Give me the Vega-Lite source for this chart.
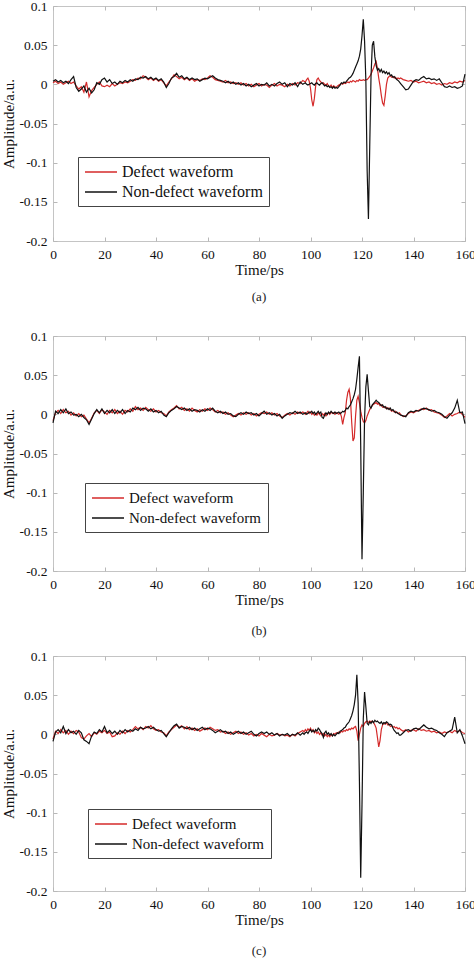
{
  "$schema": "https://vega.github.io/schema/vega-lite/v6.json",
  "padding": {"left": 1, "top": -2, "right": 4, "bottom": 0},
  "spacing": 10,
  "resolve": {"scale": {"color": "independent"}},
  "config": {
    "font": "Liberation Serif",
    "view": {"stroke": "#c4c4c4", "strokeWidth": 1},
    "axis": {
      "domain": false, "grid": false,
      "tickColor": "#b8b8b8", "tickSize": -4, "tickWidth": 1,
      "labelFont": "Liberation Serif", "labelFontSize": 13.5, "labelColor": "#111111",
      "labelPadding": 10, "labelOverlap": false, "labelFlush": false,
      "titleFont": "Liberation Serif", "titleFontSize": 15, "titleFontWeight": "normal", "titleColor": "#111111",
      "titlePadding": 2
    },
    "title": {"orient": "bottom", "font": "Liberation Serif", "fontSize": 13, "fontWeight": "normal", "color": "#222222", "offset": 10, "anchor": "middle"},
    "legend": {"labelFont": "Liberation Serif", "labelColor": "#111111", "strokeColor": "#444444", "fillColor": "white"}
  },
  "datasets": {
    "a": [{"t":0,"d":0.002,"n":0.004},{"t":1,"d":0.004,"n":0.006},{"t":2,"d":0.001,"n":0.003},{"t":3,"d":0.003,"n":0.005},{"t":4,"d":0,"n":0.002},{"t":5,"d":0.002,"n":0.004},{"t":6,"d":0.004,"n":0.001},{"t":7,"d":0.001,"n":0.006},{"t":8,"d":0.003,"n":0.01},{"t":9,"d":-0.002,"n":-0.004},{"t":10,"d":-0.006,"n":-0.009},{"t":11,"d":-0.003,"n":-0.006},{"t":12,"d":-0.01,"n":-0.002},{"t":13,"d":0.003,"n":-0.01},{"t":14,"d":-0.016,"n":-0.005},{"t":15,"d":-0.008,"n":-0.011},{"t":16,"d":-0.004,"n":-0.007},{"t":17,"d":0,"n":0.002},{"t":18,"d":0.003,"n":0},{"t":19,"d":-0.002,"n":0.006},{"t":20,"d":-0.003,"n":0.008},{"t":21,"d":-0.001,"n":0.003},{"t":22,"d":-0.003,"n":0.006},{"t":23,"d":0.001,"n":0.001},{"t":24,"d":-0.002,"n":0.003},{"t":25,"d":0,"n":0},{"t":26,"d":0.002,"n":0.004},{"t":27,"d":0.001,"n":0.002},{"t":28,"d":0.003,"n":0.005},{"t":29,"d":0.002,"n":0.003},{"t":30,"d":0.004,"n":0.006},{"t":31,"d":0.006,"n":0.004},{"t":32,"d":0.005,"n":0.007},{"t":33,"d":0.008,"n":0.006},{"t":34,"d":0.007,"n":0.009},{"t":35,"d":0.011,"n":0.008},{"t":36,"d":0.009,"n":0.01},{"t":37,"d":0.006,"n":0.007},{"t":38,"d":0.008,"n":0.009},{"t":39,"d":0.005,"n":0.006},{"t":40,"d":0.007,"n":0.008},{"t":41,"d":0.004,"n":0.005},{"t":42,"d":0.006,"n":0.007},{"t":43,"d":0.002,"n":0.003},{"t":44,"d":-0.002,"n":-0.004},{"t":45,"d":0.003,"n":0.001},{"t":46,"d":0.007,"n":0.008},{"t":47,"d":0.012,"n":0.01},{"t":48,"d":0.01,"n":0.014},{"t":49,"d":0.007,"n":0.009},{"t":50,"d":0.009,"n":0.011},{"t":51,"d":0.006,"n":0.007},{"t":52,"d":0.008,"n":0.009},{"t":53,"d":0.005,"n":0.006},{"t":54,"d":0.007,"n":0.008},{"t":55,"d":0.004,"n":0.006},{"t":56,"d":0.006,"n":0.007},{"t":57,"d":0.005,"n":0.004},{"t":58,"d":0.007,"n":0.006},{"t":59,"d":0.006,"n":0.008},{"t":60,"d":0.008,"n":0.007},{"t":61,"d":0.011,"n":0.009},{"t":62,"d":0.009,"n":0.011},{"t":63,"d":0.006,"n":0.008},{"t":64,"d":0.005,"n":0.006},{"t":65,"d":0.004,"n":0.005},{"t":66,"d":0.003,"n":0.004},{"t":67,"d":0.005,"n":0.002},{"t":68,"d":0.002,"n":0.004},{"t":69,"d":0.003,"n":0.001},{"t":70,"d":0.001,"n":0.003},{"t":71,"d":0.002,"n":0},{"t":72,"d":0,"n":0.002},{"t":73,"d":0.002,"n":-0.001},{"t":74,"d":-0.001,"n":0.001},{"t":75,"d":0.001,"n":-0.002},{"t":76,"d":-0.002,"n":0},{"t":77,"d":0,"n":-0.003},{"t":78,"d":-0.003,"n":-0.001},{"t":79,"d":-0.001,"n":0.001},{"t":80,"d":0.001,"n":-0.002},{"t":81,"d":-0.002,"n":0},{"t":82,"d":0,"n":-0.001},{"t":83,"d":-0.001,"n":0.002},{"t":84,"d":-0.004,"n":-0.002},{"t":85,"d":-0.001,"n":0},{"t":86,"d":0.001,"n":-0.002},{"t":87,"d":-0.002,"n":0.001},{"t":88,"d":0,"n":0.003},{"t":89,"d":-0.001,"n":0},{"t":90,"d":-0.003,"n":0.002},{"t":91,"d":0,"n":-0.003},{"t":92,"d":-0.002,"n":0.001},{"t":93,"d":0.001,"n":-0.001},{"t":94,"d":-0.001,"n":0.002},{"t":95,"d":0.002,"n":-0.003},{"t":96,"d":0.001,"n":0.003},{"t":97,"d":0.005,"n":0},{"t":97.5,"d":0.004,"n":0.001},{"t":98,"d":0.003,"n":0.002},{"t":98.5,"d":0.006,"n":0},{"t":99,"d":0.008,"n":-0.001},{"t":99.5,"d":0.004,"n":0},{"t":100,"d":-0.005,"n":0.001},{"t":100.5,"d":-0.02,"n":0.002},{"t":101,"d":-0.028,"n":0},{"t":101.5,"d":-0.018,"n":-0.001},{"t":102,"d":-0.002,"n":0.001},{"t":102.5,"d":0.006,"n":0.002},{"t":103,"d":0.008,"n":0},{"t":103.5,"d":0.005,"n":-0.001},{"t":104,"d":0.003,"n":0.001},{"t":104.5,"d":0.001,"n":0.002},{"t":105,"d":0.002,"n":0},{"t":105.5,"d":0,"n":-0.002},{"t":106,"d":-0.001,"n":-0.001},{"t":106.5,"d":0.001,"n":-0.003},{"t":107,"d":-0.002,"n":-0.002},{"t":107.5,"d":-0.003,"n":-0.004},{"t":108,"d":-0.001,"n":-0.003},{"t":108.5,"d":-0.004,"n":-0.005},{"t":109,"d":-0.002,"n":-0.003},{"t":109.5,"d":-0.003,"n":-0.005},{"t":110,"d":-0.004,"n":-0.004},{"t":110.5,"d":-0.002,"n":-0.005},{"t":111,"d":-0.001,"n":-0.003},{"t":111.5,"d":0,"n":-0.001},{"t":112,"d":0.001,"n":0.002},{"t":112.5,"d":0,"n":0.001},{"t":113,"d":0.002,"n":0.003},{"t":113.5,"d":0.001,"n":0.002},{"t":114,"d":0.002,"n":0.004},{"t":114.5,"d":0.003,"n":0.006},{"t":115,"d":0.002,"n":0.008},{"t":115.5,"d":0.004,"n":0.009},{"t":116,"d":0.003,"n":0.011},{"t":116.5,"d":0.005,"n":0.014},{"t":117,"d":0.004,"n":0.018},{"t":117.5,"d":0.003,"n":0.022},{"t":118,"d":0.005,"n":0.026},{"t":118.5,"d":0.004,"n":0.03},{"t":119,"d":0.006,"n":0.036},{"t":119.5,"d":0.005,"n":0.045},{"t":120,"d":0.005,"n":0.062},{"t":120.5,"d":0.006,"n":0.083},{"t":121,"d":0.005,"n":0.055},{"t":121.5,"d":0.006,"n":0.005},{"t":122,"d":0.006,"n":-0.11},{"t":122.5,"d":0.008,"n":-0.172},{"t":123,"d":0.01,"n":-0.08},{"t":123.5,"d":0.013,"n":0.01},{"t":124,"d":0.017,"n":0.05},{"t":124.5,"d":0.021,"n":0.055},{"t":125,"d":0.026,"n":0.035},{"t":125.5,"d":0.029,"n":0.024},{"t":126,"d":0.02,"n":0.018},{"t":126.5,"d":0.008,"n":0.02},{"t":127,"d":-0.002,"n":0.016},{"t":127.5,"d":-0.014,"n":0.019},{"t":128,"d":-0.024,"n":0.015},{"t":128.5,"d":-0.027,"n":0.017},{"t":129,"d":-0.015,"n":0.014},{"t":129.5,"d":0,"n":0.016},{"t":130,"d":0.008,"n":0.013},{"t":130.5,"d":0.01,"n":0.015},{"t":131,"d":0.011,"n":0.011},{"t":131.5,"d":0.009,"n":0.012},{"t":132,"d":0.01,"n":0.009},{"t":132.5,"d":0.008,"n":0.01},{"t":133,"d":0.009,"n":0.008},{"t":133.5,"d":0.007,"n":0.006},{"t":134,"d":0.008,"n":0.005},{"t":134.5,"d":0.007,"n":0.003},{"t":135,"d":0.008,"n":0.001},{"t":136,"d":0.006,"n":-0.003},{"t":137,"d":0.005,"n":-0.007},{"t":138,"d":0.004,"n":-0.006},{"t":139,"d":0.005,"n":-0.001},{"t":140,"d":0.003,"n":0.004},{"t":141,"d":0.004,"n":0.006},{"t":142,"d":0.002,"n":0.005},{"t":143,"d":0.003,"n":0.008},{"t":144,"d":0.004,"n":0.01},{"t":145,"d":0.002,"n":0.007},{"t":146,"d":0.003,"n":0.008},{"t":147,"d":0.001,"n":0.006},{"t":148,"d":0.002,"n":0.007},{"t":149,"d":0,"n":0.005},{"t":150,"d":0.001,"n":0.007},{"t":151,"d":-0.001,"n":0.002},{"t":152,"d":0.001,"n":-0.003},{"t":153,"d":0,"n":-0.004},{"t":154,"d":0.002,"n":-0.002},{"t":155,"d":0.001,"n":-0.004},{"t":156,"d":0.003,"n":-0.003},{"t":157,"d":0.002,"n":-0.005},{"t":158,"d":0.004,"n":-0.004},{"t":159,"d":0.003,"n":-0.002},{"t":160,"d":0.005,"n":0.013}],
    "b": [{"t":0,"d":-0.008,"n":-0.011},{"t":1,"d":0.002,"n":0.004},{"t":2,"d":0.005,"n":0.001},{"t":3,"d":0.001,"n":0.006},{"t":4,"d":0.006,"n":0.002},{"t":5,"d":0.002,"n":0.007},{"t":6,"d":0.004,"n":0.001},{"t":7,"d":-0.001,"n":0.003},{"t":8,"d":0.002,"n":-0.001},{"t":9,"d":-0.002,"n":0},{"t":10,"d":0.001,"n":-0.003},{"t":11,"d":-0.003,"n":0},{"t":12,"d":-0.001,"n":-0.004},{"t":13,"d":-0.006,"n":-0.007},{"t":14,"d":-0.011,"n":-0.013},{"t":15,"d":-0.005,"n":-0.006},{"t":16,"d":0.002,"n":0.001},{"t":17,"d":0.005,"n":0.006},{"t":18,"d":0.001,"n":0.002},{"t":19,"d":0.006,"n":0.007},{"t":20,"d":0.003,"n":0.001},{"t":21,"d":0,"n":0.005},{"t":22,"d":0.005,"n":0.002},{"t":23,"d":0.002,"n":0.006},{"t":24,"d":0.006,"n":0.001},{"t":25,"d":0.001,"n":0.005},{"t":26,"d":0.004,"n":0.002},{"t":27,"d":0,"n":0.006},{"t":28,"d":0.005,"n":0.001},{"t":29,"d":0.003,"n":0.005},{"t":30,"d":0.007,"n":0.003},{"t":31,"d":0.004,"n":0.008},{"t":32,"d":0.01,"n":0.006},{"t":33,"d":0.006,"n":0.009},{"t":34,"d":0.008,"n":0.005},{"t":35,"d":0.005,"n":0.008},{"t":36,"d":0.009,"n":0.007},{"t":37,"d":0.006,"n":0.004},{"t":38,"d":0.004,"n":0.007},{"t":39,"d":0.007,"n":0.003},{"t":40,"d":0.003,"n":0.005},{"t":41,"d":0.005,"n":0.002},{"t":42,"d":0.002,"n":0.004},{"t":43,"d":0.001,"n":-0.001},{"t":44,"d":-0.002,"n":-0.003},{"t":45,"d":0.003,"n":0.002},{"t":46,"d":0.006,"n":0.005},{"t":47,"d":0.008,"n":0.007},{"t":48,"d":0.011,"n":0.01},{"t":49,"d":0.007,"n":0.008},{"t":50,"d":0.009,"n":0.006},{"t":51,"d":0.005,"n":0.008},{"t":52,"d":0.007,"n":0.005},{"t":53,"d":0.004,"n":0.007},{"t":54,"d":0.008,"n":0.004},{"t":55,"d":0.005,"n":0.006},{"t":56,"d":0.003,"n":0.005},{"t":57,"d":0.006,"n":0.003},{"t":58,"d":0.004,"n":0.006},{"t":59,"d":0.007,"n":0.004},{"t":60,"d":0.005,"n":0.007},{"t":61,"d":0.008,"n":0.005},{"t":62,"d":0.006,"n":0.008},{"t":63,"d":0.003,"n":0.004},{"t":64,"d":0.005,"n":0.002},{"t":65,"d":0.002,"n":0.004},{"t":66,"d":0.003,"n":0.001},{"t":67,"d":0,"n":0.003},{"t":68,"d":0.002,"n":0},{"t":69,"d":-0.001,"n":0.001},{"t":70,"d":-0.003,"n":-0.002},{"t":71,"d":-0.001,"n":-0.003},{"t":72,"d":0.001,"n":0},{"t":73,"d":-0.001,"n":0.002},{"t":74,"d":0.002,"n":0},{"t":75,"d":0,"n":0.003},{"t":76,"d":0.002,"n":0.001},{"t":77,"d":-0.001,"n":0.002},{"t":78,"d":0.001,"n":-0.001},{"t":79,"d":-0.002,"n":0.001},{"t":80,"d":0,"n":-0.002},{"t":81,"d":0.002,"n":0.001},{"t":82,"d":0.001,"n":0.004},{"t":83,"d":0.003,"n":0},{"t":84,"d":0,"n":0.002},{"t":85,"d":0.002,"n":-0.001},{"t":86,"d":-0.001,"n":0.001},{"t":87,"d":0.001,"n":-0.002},{"t":88,"d":-0.002,"n":0},{"t":89,"d":-0.004,"n":-0.005},{"t":90,"d":-0.001,"n":-0.002},{"t":91,"d":0.001,"n":0},{"t":92,"d":-0.001,"n":0.002},{"t":93,"d":0.002,"n":0.001},{"t":94,"d":0,"n":0.004},{"t":95,"d":0.003,"n":0.001},{"t":96,"d":0.001,"n":0.003},{"t":97,"d":0.003,"n":0},{"t":97.5,"d":0.002,"n":0.001},{"t":98,"d":0,"n":0.002},{"t":98.5,"d":0.002,"n":0},{"t":99,"d":0.004,"n":0.001},{"t":99.5,"d":0.001,"n":0.003},{"t":100,"d":0.003,"n":0.002},{"t":100.5,"d":0,"n":0.004},{"t":101,"d":0.002,"n":0.001},{"t":101.5,"d":-0.001,"n":0.003},{"t":102,"d":0.001,"n":0},{"t":102.5,"d":-0.001,"n":0.002},{"t":103,"d":0.002,"n":0.004},{"t":103.5,"d":0,"n":0.001},{"t":104,"d":-0.002,"n":0.003},{"t":104.5,"d":0.001,"n":-0.004},{"t":105,"d":-0.001,"n":-0.005},{"t":105.5,"d":0.001,"n":-0.001},{"t":106,"d":-0.002,"n":0.002},{"t":106.5,"d":0,"n":0},{"t":107,"d":0.002,"n":0.003},{"t":107.5,"d":0,"n":0.001},{"t":108,"d":0.003,"n":0.004},{"t":108.5,"d":0.001,"n":0.002},{"t":109,"d":0.002,"n":0.001},{"t":109.5,"d":0,"n":0.003},{"t":110,"d":0.002,"n":0.001},{"t":110.5,"d":0.001,"n":0.002},{"t":111,"d":0,"n":0.003},{"t":111.5,"d":0.002,"n":0.001},{"t":112,"d":-0.003,"n":0.002},{"t":112.5,"d":-0.013,"n":0.004},{"t":113,"d":-0.004,"n":0.003},{"t":113.5,"d":0.002,"n":0.005},{"t":114,"d":0.018,"n":0.008},{"t":114.5,"d":0.028,"n":0.007},{"t":115,"d":0.032,"n":0.01},{"t":115.5,"d":0.02,"n":0.012},{"t":116,"d":-0.01,"n":0.016},{"t":116.5,"d":-0.034,"n":0.02},{"t":117,"d":-0.03,"n":0.025},{"t":117.5,"d":-0.002,"n":0.032},{"t":118,"d":0.018,"n":0.045},{"t":118.5,"d":0.023,"n":0.06},{"t":119,"d":0.015,"n":0.074},{"t":119.5,"d":0.004,"n":-0.04},{"t":120,"d":-0.004,"n":-0.185},{"t":120.5,"d":-0.009,"n":-0.1},{"t":121,"d":-0.011,"n":-0.005},{"t":121.5,"d":-0.008,"n":0.035},{"t":122,"d":-0.002,"n":0.051},{"t":122.5,"d":0.002,"n":0.03},{"t":123,"d":0.006,"n":0.01},{"t":123.5,"d":0.009,"n":0.008},{"t":124,"d":0.011,"n":0.012},{"t":124.5,"d":0.013,"n":0.014},{"t":125,"d":0.014,"n":0.016},{"t":125.5,"d":0.015,"n":0.018},{"t":126,"d":0.013,"n":0.016},{"t":126.5,"d":0.014,"n":0.015},{"t":127,"d":0.011,"n":0.013},{"t":127.5,"d":0.012,"n":0.011},{"t":128,"d":0.009,"n":0.012},{"t":128.5,"d":0.01,"n":0.009},{"t":129,"d":0.008,"n":0.01},{"t":129.5,"d":0.009,"n":0.007},{"t":130,"d":0.007,"n":0.008},{"t":130.5,"d":0.008,"n":0.006},{"t":131,"d":0.006,"n":0.008},{"t":131.5,"d":0.004,"n":0.005},{"t":132,"d":0.005,"n":0.006},{"t":132.5,"d":0.003,"n":0.004},{"t":133,"d":0.004,"n":0.002},{"t":133.5,"d":0.002,"n":0.003},{"t":134,"d":0.001,"n":0.001},{"t":134.5,"d":0.002,"n":0},{"t":135,"d":0,"n":-0.001},{"t":136,"d":-0.003,"n":-0.002},{"t":137,"d":-0.002,"n":-0.003},{"t":138,"d":0.001,"n":0.002},{"t":139,"d":0.003,"n":0.004},{"t":140,"d":0.002,"n":0.003},{"t":141,"d":0.004,"n":0.005},{"t":142,"d":0.005,"n":0.004},{"t":143,"d":0.007,"n":0.006},{"t":144,"d":0.006,"n":0.008},{"t":145,"d":0.008,"n":0.007},{"t":146,"d":0.005,"n":0.006},{"t":147,"d":0.006,"n":0.004},{"t":148,"d":0.003,"n":0.005},{"t":149,"d":0.002,"n":0.003},{"t":150,"d":0.001,"n":0.002},{"t":151,"d":-0.001,"n":0},{"t":152,"d":-0.004,"n":-0.003},{"t":153,"d":-0.002,"n":-0.005},{"t":154,"d":0.001,"n":-0.001},{"t":155,"d":-0.002,"n":0.002},{"t":156,"d":0,"n":0.008},{"t":157,"d":0.001,"n":0.018},{"t":158,"d":0.003,"n":0.002},{"t":159,"d":0,"n":0.003},{"t":160,"d":-0.004,"n":-0.012}],
    "c": [{"t":0,"d":-0.006,"n":-0.009},{"t":1,"d":0.004,"n":0.003},{"t":2,"d":0.001,"n":0.006},{"t":3,"d":0.006,"n":0.002},{"t":4,"d":0.002,"n":0.01},{"t":5,"d":0.005,"n":0.001},{"t":6,"d":0,"n":0.006},{"t":7,"d":0.004,"n":0.002},{"t":8,"d":0.001,"n":0.004},{"t":9,"d":0.005,"n":0},{"t":10,"d":0.003,"n":0.005},{"t":11,"d":-0.004,"n":0.002},{"t":12,"d":-0.006,"n":-0.007},{"t":13,"d":-0.002,"n":-0.009},{"t":14,"d":0.001,"n":-0.012},{"t":15,"d":-0.003,"n":-0.002},{"t":16,"d":0.002,"n":0.003},{"t":17,"d":0,"n":0.001},{"t":18,"d":0.004,"n":0.006},{"t":19,"d":0.002,"n":0.003},{"t":20,"d":0.005,"n":0.01},{"t":21,"d":0.001,"n":0.002},{"t":22,"d":0.003,"n":0.005},{"t":23,"d":-0.003,"n":0.001},{"t":24,"d":-0.002,"n":0.004},{"t":25,"d":0.002,"n":0},{"t":26,"d":0,"n":0.005},{"t":27,"d":0.004,"n":0.002},{"t":28,"d":0.001,"n":0.006},{"t":29,"d":0.005,"n":0.003},{"t":30,"d":0.003,"n":0.006},{"t":31,"d":0.006,"n":0.004},{"t":32,"d":0.01,"n":0.007},{"t":33,"d":0.007,"n":0.005},{"t":34,"d":0.009,"n":0.009},{"t":35,"d":0.006,"n":0.007},{"t":36,"d":0.01,"n":0.008},{"t":37,"d":0.008,"n":0.01},{"t":38,"d":0.011,"n":0.007},{"t":39,"d":0.007,"n":0.009},{"t":40,"d":0.005,"n":0.006},{"t":41,"d":0.006,"n":0.004},{"t":42,"d":0.003,"n":0.005},{"t":43,"d":0.002,"n":0.001},{"t":44,"d":-0.002,"n":-0.003},{"t":45,"d":0.003,"n":0.002},{"t":46,"d":0.006,"n":0.007},{"t":47,"d":0.009,"n":0.011},{"t":48,"d":0.012,"n":0.013},{"t":49,"d":0.009,"n":0.008},{"t":50,"d":0.011,"n":0.01},{"t":51,"d":0.007,"n":0.009},{"t":52,"d":0.01,"n":0.007},{"t":53,"d":0.006,"n":0.009},{"t":54,"d":0.008,"n":0.006},{"t":55,"d":0.005,"n":0.008},{"t":56,"d":0.007,"n":0.005},{"t":57,"d":0.004,"n":0.007},{"t":58,"d":0.006,"n":0.009},{"t":59,"d":0.008,"n":0.006},{"t":60,"d":0.006,"n":0.008},{"t":61,"d":0.009,"n":0.007},{"t":62,"d":0.007,"n":0.005},{"t":63,"d":0.005,"n":0.002},{"t":64,"d":0.006,"n":0.004},{"t":65,"d":0.003,"n":0.006},{"t":66,"d":0.004,"n":0.003},{"t":67,"d":0.001,"n":0.004},{"t":68,"d":0.003,"n":0.001},{"t":69,"d":0,"n":0.003},{"t":70,"d":0.002,"n":0},{"t":71,"d":0.004,"n":0.002},{"t":72,"d":0.001,"n":0.004},{"t":73,"d":0.003,"n":0.001},{"t":74,"d":0,"n":0.003},{"t":75,"d":0.002,"n":0},{"t":76,"d":-0.001,"n":0.002},{"t":77,"d":0.001,"n":0.004},{"t":78,"d":-0.002,"n":0},{"t":79,"d":0,"n":-0.002},{"t":80,"d":-0.002,"n":0.001},{"t":81,"d":0.001,"n":0.003},{"t":82,"d":-0.001,"n":0.001},{"t":83,"d":-0.003,"n":0.003},{"t":84,"d":0,"n":0},{"t":85,"d":-0.002,"n":0.002},{"t":86,"d":-0.001,"n":-0.001},{"t":87,"d":0.001,"n":0.001},{"t":88,"d":-0.001,"n":-0.002},{"t":89,"d":0,"n":0},{"t":90,"d":-0.002,"n":-0.001},{"t":91,"d":-0.001,"n":0.001},{"t":92,"d":-0.003,"n":-0.002},{"t":93,"d":0,"n":0},{"t":94,"d":-0.002,"n":-0.001},{"t":95,"d":0.001,"n":0.002},{"t":96,"d":0.003,"n":-0.001},{"t":97,"d":0.005,"n":0.002},{"t":97.5,"d":0.003,"n":0},{"t":98,"d":0.006,"n":0.002},{"t":98.5,"d":0.004,"n":0.003},{"t":99,"d":0.007,"n":0.001},{"t":99.5,"d":0.005,"n":0.004},{"t":100,"d":0.008,"n":0.006},{"t":100.5,"d":0.004,"n":0.003},{"t":101,"d":0.006,"n":0.005},{"t":101.5,"d":0.002,"n":0.003},{"t":102,"d":0.004,"n":0.006},{"t":102.5,"d":0.001,"n":0.004},{"t":103,"d":0.003,"n":0.008},{"t":103.5,"d":0,"n":0.006},{"t":104,"d":0.002,"n":0.003},{"t":104.5,"d":-0.001,"n":0.001},{"t":105,"d":0.001,"n":-0.004},{"t":105.5,"d":-0.002,"n":0.002},{"t":106,"d":0,"n":0.004},{"t":106.5,"d":-0.003,"n":0},{"t":107,"d":-0.001,"n":0.002},{"t":107.5,"d":-0.003,"n":-0.001},{"t":108,"d":0,"n":0.001},{"t":108.5,"d":-0.002,"n":-0.002},{"t":109,"d":0.001,"n":0},{"t":109.5,"d":0,"n":-0.002},{"t":110,"d":0.002,"n":0},{"t":110.5,"d":0.001,"n":0.002},{"t":111,"d":0.003,"n":0.001},{"t":111.5,"d":0.002,"n":0.004},{"t":112,"d":0.004,"n":0.005},{"t":112.5,"d":0.003,"n":0.006},{"t":113,"d":0.005,"n":0.008},{"t":113.5,"d":0.004,"n":0.009},{"t":114,"d":0.006,"n":0.012},{"t":114.5,"d":0.005,"n":0.014},{"t":115,"d":0.007,"n":0.016},{"t":115.5,"d":0.006,"n":0.02},{"t":116,"d":0.008,"n":0.024},{"t":116.5,"d":0.007,"n":0.03},{"t":117,"d":0.009,"n":0.038},{"t":117.5,"d":0.01,"n":0.05},{"t":118,"d":0.004,"n":0.076},{"t":118.5,"d":-0.008,"n":0.04},{"t":119,"d":0,"n":-0.06},{"t":119.5,"d":0.008,"n":-0.183},{"t":120,"d":0.012,"n":-0.09},{"t":120.5,"d":0.01,"n":0.02},{"t":121,"d":0.014,"n":0.054},{"t":121.5,"d":0.016,"n":0.035},{"t":122,"d":0.017,"n":0.014},{"t":122.5,"d":0.015,"n":0.012},{"t":123,"d":0.017,"n":0.016},{"t":123.5,"d":0.016,"n":0.014},{"t":124,"d":0.017,"n":0.017},{"t":124.5,"d":0.015,"n":0.015},{"t":125,"d":0.012,"n":0.018},{"t":125.5,"d":0.008,"n":0.016},{"t":126,"d":-0.004,"n":0.017},{"t":126.5,"d":-0.016,"n":0.015},{"t":127,"d":-0.008,"n":0.014},{"t":127.5,"d":0.006,"n":0.016},{"t":128,"d":0.012,"n":0.013},{"t":128.5,"d":0.014,"n":0.015},{"t":129,"d":0.013,"n":0.014},{"t":129.5,"d":0.015,"n":0.016},{"t":130,"d":0.012,"n":0.015},{"t":130.5,"d":0.013,"n":0.012},{"t":131,"d":0.01,"n":0.013},{"t":131.5,"d":0.011,"n":0.012},{"t":132,"d":0.009,"n":0.008},{"t":132.5,"d":0.01,"n":0.005},{"t":133,"d":0.008,"n":0.003},{"t":133.5,"d":0.009,"n":0.001},{"t":134,"d":0.007,"n":0.002},{"t":134.5,"d":0.008,"n":-0.001},{"t":135,"d":0.006,"n":-0.001},{"t":136,"d":0.004,"n":0.002},{"t":137,"d":0.006,"n":0.005},{"t":138,"d":0.003,"n":0.006},{"t":139,"d":0.005,"n":0.004},{"t":140,"d":0.006,"n":0.007},{"t":141,"d":0.004,"n":0.008},{"t":142,"d":0.007,"n":0.006},{"t":143,"d":0.005,"n":0.009},{"t":144,"d":0.006,"n":0.012},{"t":145,"d":0.004,"n":0.009},{"t":146,"d":0.005,"n":0.007},{"t":147,"d":0.003,"n":0.008},{"t":148,"d":0.004,"n":0.006},{"t":149,"d":0.002,"n":0.005},{"t":150,"d":0.003,"n":0.002},{"t":151,"d":0.001,"n":0},{"t":152,"d":0.003,"n":-0.003},{"t":153,"d":0.002,"n":0.002},{"t":154,"d":0.004,"n":0.004},{"t":155,"d":0.002,"n":0.006},{"t":156,"d":0.005,"n":0.022},{"t":157,"d":0.003,"n":0.002},{"t":158,"d":0.005,"n":0.006},{"t":159,"d":0.002,"n":-0.002},{"t":160,"d":0.001,"n":-0.012}]
  },
  "vconcat": [
    {
      "spacing": 24,
      "resolve": {"scale": {"color": "independent"}},
      "vconcat": [
        {
          "width": 412, "height": 235,
          "data": {"name": "a"},
          "title": {"text": "(a)", "offset": 13},
          "resolve": {"axis": {"x": "independent", "y": "independent"}},
          "layer": [
            {
              "mark": {"type": "line", "strokeWidth": 1.2},
              "encoding": {
                "x": {"field": "t", "type": "quantitative", "scale": {"domain": [0, 160], "nice": false, "zero": false},
                      "axis": {"orient": "bottom", "title": "Time/ps", "values": [0, 20, 40, 60, 80, 100, 120, 140, 160]}},
                "y": {"field": "d", "type": "quantitative", "scale": {"domain": [-0.2, 0.1], "nice": false, "zero": false},
                      "axis": {"orient": "left", "title": "Amplitude/a.u.", "values": [-0.2, -0.15, -0.1, -0.05, 0, 0.05, 0.1], "labelExpr": "toString(datum.value)"}},
                "color": {"datum": "Defect waveform", "type": "nominal",
                          "scale": {"domain": ["Defect waveform", "Non-defect waveform"], "range": ["#d42a2a", "#111111"]},
                          "legend": {"orient": "none", "legendX": 25, "legendY": 151, "title": null, "symbolType": "M-1,0H3", "symbolSize": 256, "symbolStrokeWidth": 1.5, "labelFont": "Liberation Serif", "labelFontSize": 16, "rowPadding": 3, "padding": 6, "labelOffset": 20}}
              }
            },
            {
              "mark": {"type": "line", "strokeWidth": 1.2},
              "encoding": {
                "x": {"field": "t", "type": "quantitative", "axis": {"orient": "top", "labels": false, "title": null, "values": [0, 20, 40, 60, 80, 100, 120, 140, 160]}},
                "y": {"field": "n", "type": "quantitative", "axis": {"orient": "right", "labels": false, "title": null, "values": [-0.2, -0.15, -0.1, -0.05, 0, 0.05, 0.1]}},
                "color": {"datum": "Non-defect waveform", "type": "nominal"}
              }
            }
          ]
        },
        {
          "width": 412, "height": 235,
          "data": {"name": "b"},
          "title": {"text": "(b)", "offset": 17},
          "resolve": {"axis": {"x": "independent", "y": "independent"}},
          "layer": [
            {
              "mark": {"type": "line", "strokeWidth": 1.2},
              "encoding": {
                "x": {"field": "t", "type": "quantitative", "scale": {"domain": [0, 160], "nice": false, "zero": false},
                      "axis": {"orient": "bottom", "title": "Time/ps", "values": [0, 20, 40, 60, 80, 100, 120, 140, 160]}},
                "y": {"field": "d", "type": "quantitative", "scale": {"domain": [-0.2, 0.1], "nice": false, "zero": false},
                      "axis": {"orient": "left", "title": "Amplitude/a.u.", "values": [-0.2, -0.15, -0.1, -0.05, 0, 0.05, 0.1], "labelExpr": "toString(datum.value)"}},
                "color": {"datum": "Defect waveform", "type": "nominal",
                          "scale": {"domain": ["Defect waveform", "Non-defect waveform"], "range": ["#d42a2a", "#111111"]},
                          "legend": {"orient": "none", "legendX": 32, "legendY": 147, "title": null, "symbolType": "M-1,0H3", "symbolSize": 256, "symbolStrokeWidth": 1.5, "labelFont": "Liberation Serif", "labelFontSize": 15, "rowPadding": 3, "padding": 6, "labelOffset": 20}}
              }
            },
            {
              "mark": {"type": "line", "strokeWidth": 1.2},
              "encoding": {
                "x": {"field": "t", "type": "quantitative", "axis": {"orient": "top", "labels": false, "title": null, "values": [0, 20, 40, 60, 80, 100, 120, 140, 160]}},
                "y": {"field": "n", "type": "quantitative", "axis": {"orient": "right", "labels": false, "title": null, "values": [-0.2, -0.15, -0.1, -0.05, 0, 0.05, 0.1]}},
                "color": {"datum": "Non-defect waveform", "type": "nominal"}
              }
            }
          ]
        }
      ]
    },
    {
      "width": 412, "height": 235,
      "data": {"name": "c"},
      "title": {"text": "(c)", "offset": 17},
      "resolve": {"axis": {"x": "independent", "y": "independent"}},
      "layer": [
        {
          "mark": {"type": "line", "strokeWidth": 1.2},
          "encoding": {
            "x": {"field": "t", "type": "quantitative", "scale": {"domain": [0, 160], "nice": false, "zero": false},
                  "axis": {"orient": "bottom", "title": "Time/ps", "values": [0, 20, 40, 60, 80, 100, 120, 140, 160]}},
            "y": {"field": "d", "type": "quantitative", "scale": {"domain": [-0.2, 0.1], "nice": false, "zero": false},
                  "axis": {"orient": "left", "title": "Amplitude/a.u.", "values": [-0.2, -0.15, -0.1, -0.05, 0, 0.05, 0.1], "labelExpr": "toString(datum.value)"}},
            "color": {"datum": "Defect waveform", "type": "nominal",
                      "scale": {"domain": ["Defect waveform", "Non-defect waveform"], "range": ["#d42a2a", "#111111"]},
                      "legend": {"orient": "none", "legendX": 35, "legendY": 153, "title": null, "symbolType": "M-1,0H3", "symbolSize": 256, "symbolStrokeWidth": 1.5, "labelFont": "Liberation Serif", "labelFontSize": 15, "rowPadding": 3, "padding": 6, "labelOffset": 20}}
          }
        },
        {
          "mark": {"type": "line", "strokeWidth": 1.2},
          "encoding": {
            "x": {"field": "t", "type": "quantitative", "axis": {"orient": "top", "labels": false, "title": null, "values": [0, 20, 40, 60, 80, 100, 120, 140, 160]}},
            "y": {"field": "n", "type": "quantitative", "axis": {"orient": "right", "labels": false, "title": null, "values": [-0.2, -0.15, -0.1, -0.05, 0, 0.05, 0.1]}},
            "color": {"datum": "Non-defect waveform", "type": "nominal"}
          }
        }
      ]
    }
  ]
}
